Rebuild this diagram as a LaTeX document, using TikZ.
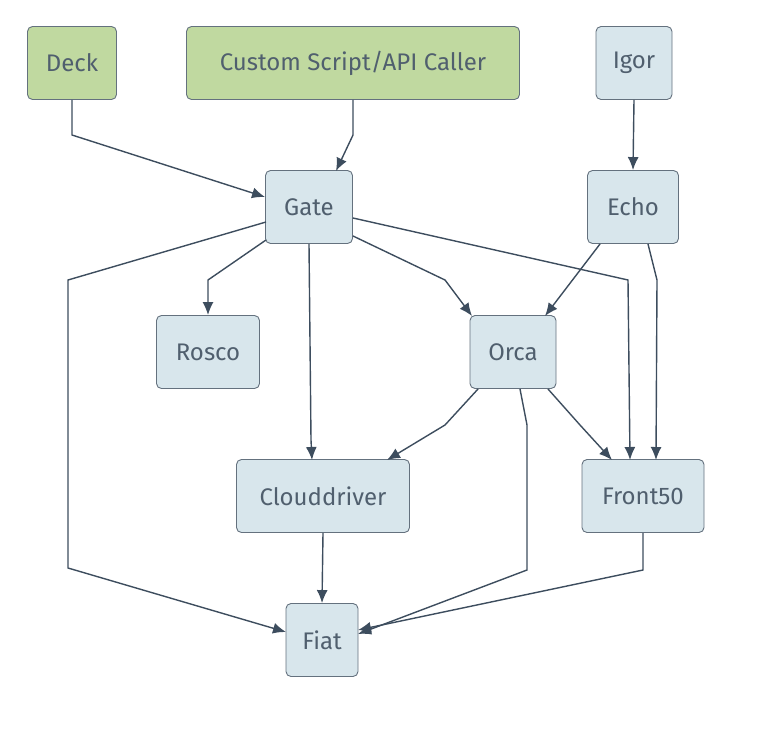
\documentclass[tikz,border=0pt]{standalone}
\usepackage{fontspec}
\setmainfont{Fira Sans}
\usepackage{tikz}
\usetikzlibrary{arrows.meta}
\definecolor{edgec}{HTML}{3D4D5E}
\definecolor{greenf}{HTML}{C0D9A0}
\definecolor{bluef}{HTML}{D8E6EC}
\tikzset{
  box/.style={draw=edgec!80,rounded corners=5pt,minimum height=73pt,inner sep=0pt,
    font=\fontsize{24}{28}\selectfont,text=edgec!90,line width=0.9pt},
  ui/.style={box,fill=greenf},
  svc/.style={box,fill=bluef},
  link/.style={draw=edgec,line width=1.4pt,-{Latex[length=13pt,width=11pt]}}
}
\begin{document}
\begin{tikzpicture}[x=1pt,y=-1pt]
    \useasboundingbox (0,0) rectangle (760,734);

    % Top row
    \node[ui,minimum width=89pt] (deck) at (72,63) {Deck};
    \node[ui,minimum width=333pt] (custom) at (353,63) {Custom Script/API Caller};
    \node[svc,minimum width=76pt] (igor) at (634,63) {Igor};

    % Services
    \node[svc,minimum width=87pt] (gate) at (309,207) {Gate};
    \node[svc,minimum width=91pt] (echo) at (633,207) {Echo};
    \node[svc,minimum width=103pt] (rosco) at (208,352) {Rosco};
    \node[svc,minimum width=86pt] (orca) at (513,352) {Orca};
    \node[svc,minimum width=173pt] (cloud) at (323,496) {Clouddriver};
    \node[svc,minimum width=122pt] (front) at (643,496) {Front50};
    \node[svc,minimum width=72pt] (fiat) at (322,640) {Fiat};

    % Edges
    \draw[link] (deck.south) -- (72,135) -- (gate.west |- 0,197);
    \draw[link] (custom.south) -- (353,135) -- (336,171);
    \draw[link] (igor.south) -- (echo.north);
    \draw[link] (266,240) -- (208,280) -- (rosco.north);
    \draw[link] (266,222) -- (68,280) -- (68,568) -- (286,632);
    \draw[link] (309,244) -- (311,440) -- (312,460);
    \draw[link] (353,236) -- (445,280) -- (472,316);
    \draw[link] (353,218) -- (628,280) -- (630,460);
    \draw[link] (600,244) -- (545,316);
    \draw[link] (648,244) -- (657,280) -- (656,460);
    \draw[link] (478,389) -- (445,425) -- (387,460);
    \draw[link] (520,389) -- (527,425) -- (527,570) -- (358,634);
    \draw[link] (548,389) -- (580,425) -- (612,460);
    \draw[link] (cloud.south) -- (fiat.north);
    \draw[link] (643,533) -- (643,570) -- (358,630);
\end{tikzpicture}
\end{document}
